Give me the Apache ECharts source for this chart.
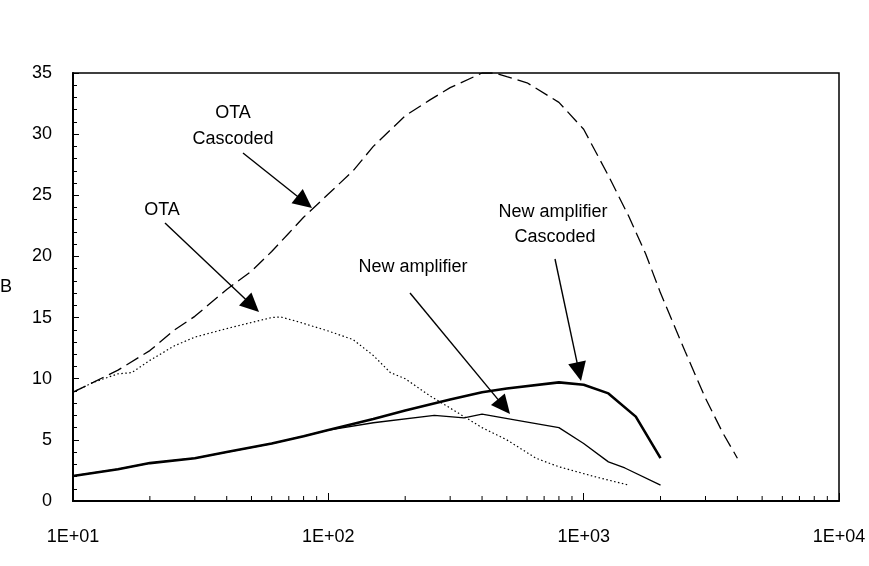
<!DOCTYPE html>
<html><head><meta charset="utf-8">
<script src="https://cdn.jsdelivr.net/npm/echarts@6/dist/echarts.min.js"></script>
<style>html,body{margin:0;padding:0;background:#fff}#c{width:869px;height:566px}</style>
</head><body><div id="c"></div>
<script>
// ---- data (frequency, dB) ----
const otaCascFreq = [10, 12, 15, 20, 25, 30, 40, 50, 60, 70, 80, 100, 125, 150, 200, 250, 300, 400, 450, 500, 600, 800, 1000, 1250, 1500, 1750, 2000, 2500, 3000, 3500, 4000];
const otaCascDb   = [8.9, 9.7, 10.7, 12.3, 14.0, 15.1, 17.3, 18.8, 20.4, 21.9, 23.2, 25.1, 27.0, 29.0, 31.5, 32.8, 33.8, 35.0, 35.0, 34.7, 34.2, 32.6, 30.4, 26.6, 23.3, 20.2, 17.0, 12.2, 8.4, 5.6, 3.5];

const otaFreq = [10, 12, 15, 17, 20, 25, 30, 40, 50, 60, 65, 75, 100, 125, 150, 175, 200, 250, 300, 400, 500, 650, 800, 1100, 1500];
const otaDb   = [8.9, 9.7, 10.4, 10.5, 11.5, 12.7, 13.4, 14.1, 14.6, 15.0, 15.05, 14.7, 13.9, 13.2, 11.9, 10.5, 10.0, 8.6, 7.6, 6.0, 5.0, 3.5, 2.8, 2.0, 1.3];

const newAmpFreq = [10, 15, 20, 30, 40, 60, 80, 100, 150, 260, 340, 400, 550, 800, 1000, 1250, 1450, 2000];
const newAmpDb   = [2.05, 2.6, 3.1, 3.5, 4.0, 4.7, 5.3, 5.8, 6.4, 7.0, 6.8, 7.1, 6.6, 6.0, 4.7, 3.2, 2.7, 1.3];

const newAmpCascFreq = [10, 15, 20, 30, 40, 60, 80, 100, 150, 200, 300, 400, 500, 800, 1000, 1250, 1600, 2000];
const newAmpCascDb   = [2.05, 2.6, 3.1, 3.5, 4.0, 4.7, 5.3, 5.8, 6.7, 7.4, 8.3, 8.9, 9.2, 9.7, 9.5, 8.8, 6.9, 3.5];

const xTickLabels = ['1E+01', '1E+02', '1E+03', '1E+04'];
const xMinorTicks = [20,30,40,50,60,70,80,90,200,300,400,500,600,700,800,900,2000,3000,4000,5000,6000,7000,8000,9000];
const yAxisName = 'B';

const annoTexts = [
  {t:'OTA', x:233, y:113}, {t:'Cascoded', x:233, y:139},
  {t:'OTA', x:162, y:210},
  {t:'New amplifier', x:413, y:267},
  {t:'New amplifier', x:553, y:212}, {t:'Cascoded', x:555, y:237}
];
const annoArrows = [
  [243,153,312,208],
  [165,223,259,312],
  [410,293,510,414],
  [555,259,581,381]
];

// ---- chart ----
const F = '"Liberation Sans", Arial, Helvetica, sans-serif';
function pairs(f, v){ return f.map((x,i)=>[x, v[i]]); }
function arrow(a){
  const [x1,y1,x2,y2] = a;
  const dx=x2-x1, dy=y2-y1, L=Math.hypot(dx,dy), ux=dx/L, uy=dy/L;
  const hl=19, hw=9;
  const bx=x2-ux*hl, by=y2-uy*hl;
  return [
    {type:'line', shape:{x1:x1,y1:y1,x2:bx+ux*3,y2:by+uy*3}, style:{stroke:'#000', lineWidth:1.4}},
    {type:'polygon', shape:{points:[[x2,y2],[bx-uy*hw,by+ux*hw],[bx+uy*hw,by-ux*hw]]}, style:{fill:'#000'}}
  ];
}
const graphics = [];
annoTexts.forEach(a=>graphics.push({type:'text', x:a.x, y:a.y, style:{text:a.t, font:'18px '+F, fill:'#000', textAlign:'center', textVerticalAlign:'middle'}}));
annoArrows.forEach(a=>arrow(a).forEach(g=>graphics.push(g)));

const chart = echarts.init(document.getElementById('c'));
chart.setOption({
  animation:false,
  backgroundColor:'#fff',
  grid:{left:73, right:30, top:73, bottom:65, outerBoundsMode:'none', containLabel:false,
    show:true, borderColor:'#000', borderWidth:1.5, backgroundColor:'transparent'},
  xAxis:{
    type:'log', logBase:10, min:10, max:10000,
    axisLine:{lineStyle:{color:'#000', width:2}},
    axisTick:{inside:true, length:8, lineStyle:{color:'#000', width:1}},
    axisLabel:{fontSize:18, color:'#000', fontFamily:F, margin:27,
      formatter:(v)=>xTickLabels[Math.round(Math.log10(v))-1]},
    splitLine:{show:false}
  },
  yAxis:{
    type:'value', min:0, max:35, interval:5,
    name:yAxisName, nameLocation:'middle', nameGap:61, nameRotate:0,
    nameTextStyle:{fontSize:18, color:'#000', fontFamily:F, padding:[0,0,8,0]},
    axisLine:{show:true, lineStyle:{color:'#000', width:2}},
    axisTick:{show:true, inside:true, length:6, lineStyle:{color:'#000'}},
    minorTick:{show:true, splitNumber:5, length:4, lineStyle:{color:'#000'}},
    axisLabel:{fontSize:18, color:'#000', fontFamily:F, margin:21},
    splitLine:{show:false}
  },
  series:[
    {name:'OTA Cascoded', type:'line', symbol:'none', data:pairs(otaCascFreq, otaCascDb),
      lineStyle:{color:'#000', width:1.3, type:[14,6]}},
    {name:'OTA', type:'line', symbol:'none', data:pairs(otaFreq, otaDb),
      lineStyle:{color:'#000', width:1.2, type:[1.5,2.5]}},
    {name:'New amplifier', type:'line', symbol:'none', data:pairs(newAmpFreq, newAmpDb),
      lineStyle:{color:'#000', width:1.3}},
    {name:'New amplifier Cascoded', type:'line', symbol:'none', data:pairs(newAmpCascFreq, newAmpCascDb),
      lineStyle:{color:'#000', width:2.6}},
    {type:'custom', silent:true, data:xMinorTicks.map(v=>[v,0]), z:5,
      renderItem:(params, api)=>{
        const p = api.coord([api.value(0), 0]);
        return {type:'line', shape:{x1:p[0], y1:p[1], x2:p[0], y2:p[1]-5}, style:{stroke:'#000', lineWidth:1}};
      }}
  ],
  graphic:graphics
});
</script>
</body></html>
